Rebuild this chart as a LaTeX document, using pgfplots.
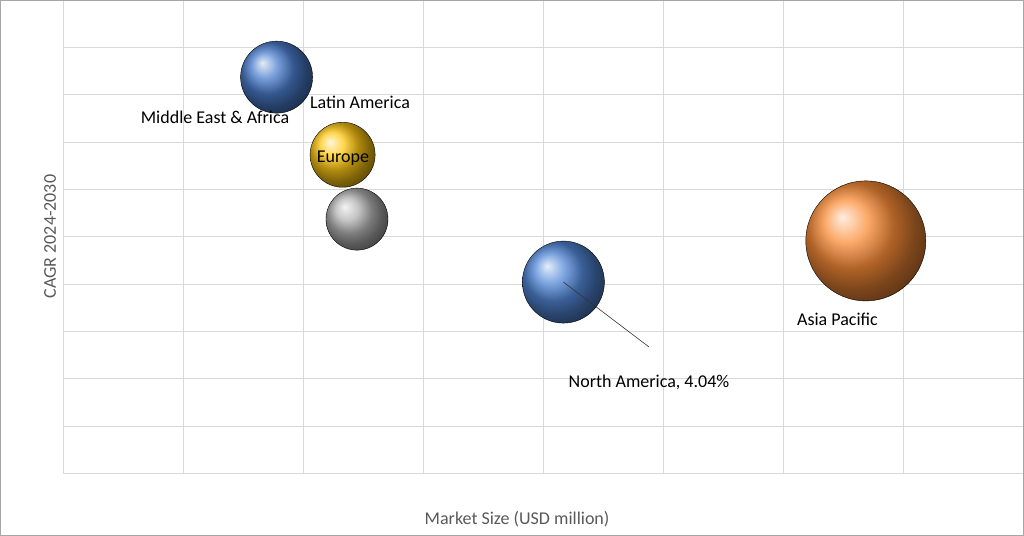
\documentclass[border=0pt]{standalone}
\usepackage{pgfplots}
\pgfplotsset{compat=1.18}
\usepackage{fontspec}
\setmainfont{Carlito}
\definecolor{gridgray}{RGB}{217,217,217}
\definecolor{framegray}{RGB}{166,166,166}
\definecolor{titlegray}{RGB}{89,89,89}
\definecolor{meablue}{RGB}{75,125,205}
\definecolor{nablue}{RGB}{82,135,215}
\definecolor{eugold}{RGB}{255,200,20}
\definecolor{lagray}{RGB}{178,178,178}
\definecolor{aporange}{RGB}{250,140,55}
\begin{document}
\fontsize{18bp}{21bp}\selectfont
\begin{tikzpicture}
\path[use as bounding box] (0,0) rectangle (1024bp,536bp);
\begin{axis}[
  at={(63bp,62.7bp)}, anchor=south west,
  scale only axis, width=960bp, height=473.3bp,
  xmin=0, xmax=8, ymin=0, ymax=10,
  xtick={0,...,8}, ytick={0,...,10},
  xticklabels={,,,,,,,,}, yticklabels={,,,,,,,,,,},
  major tick length=0pt,
  grid=major, major grid style={gridgray, line width=0.8bp},
  axis line style={gridgray, line width=0.8bp},
  xlabel={Market Size (USD million)},
  ylabel={CAGR 2024-2030},
  every axis x label/.style={at={(axis description cs:0.473,-0.0972)}, anchor=center, text=titlegray},
  every axis y label/.style={at={(axis description cs:-0.0135,0.5)}, rotate=90, anchor=center, text=titlegray},
  clip=false,
]
% market size vs CAGR (%), bubble radius ~ share
\addplot[only marks, mark=ball, ball color=meablue, mark size=36bp] coordinates {(1.78,8.37)};
\addplot[only marks, mark=ball, ball color=eugold, mark size=32.5bp] coordinates {(2.33,6.73)};
\addplot[only marks, mark=ball, ball color=lagray, mark size=31bp] coordinates {(2.45,5.37)};
\addplot[only marks, mark=ball, ball color=nablue, mark size=41bp] coordinates {(4.17,4.04)};
\addplot[only marks, mark=ball, ball color=aporange, mark size=60bp] coordinates {(6.69,4.91)};

\coordinate (naA) at (axis cs:4.17,4.04);
\coordinate (naB) at (axis cs:4.883,2.67);
\coordinate (mea) at (axis cs:1.267,7.53);
\coordinate (la) at (axis cs:2.475,7.845);
\coordinate (eu) at (axis cs:2.333,6.66);
\coordinate (na) at (axis cs:4.883,1.93);
\coordinate (ap) at (axis cs:6.454,3.26);
\end{axis}
\draw[black!80, line width=0.6bp] (naA) -- (naB);
\node at (mea) {Middle East \& Africa};
\node at (la) {Latin America};
\node at (eu) {Europe};
\node at (na) {North America, 4.04\%};
\node at (ap) {Asia Pacific};
\draw[framegray, line width=1.2bp] (0.6bp,0.6bp) rectangle (1023.4bp,535.4bp);
\end{tikzpicture}
\end{document}
